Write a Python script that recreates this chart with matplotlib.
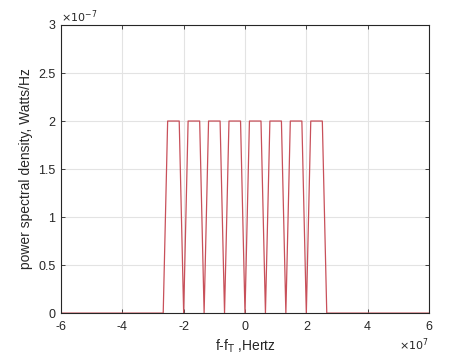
import matplotlib
matplotlib.use("Agg")
import matplotlib.pyplot as plt
from matplotlib.ticker import FuncFormatter
import numpy as np

# Data
zero_freqs = [-2.667e7, -2.0e7, -1.333e7, -0.667e7, 0.0, 0.667e7, 1.333e7, 2.0e7, 2.667e7]  # Hz, where PSD returns to zero
ramp_width = 0.145e7   # Hz, width of each rising/falling edge
psd_level = 2e-7       # W/Hz, flat top level
x_limits = [-6e7, 6e7]
y_limits = [0, 3e-7]
x_ticks = [-6e7, -4e7, -2e7, 0, 2e7, 4e7, 6e7]
y_ticks = [0, 0.5e-7, 1e-7, 1.5e-7, 2e-7, 2.5e-7, 3e-7]

# Build the frequency/psd sample sequence
freq = [x_limits[0]]
psd = [0.0]
for a, b in zip(zero_freqs[:-1], zero_freqs[1:]):
    freq += [a, a + ramp_width, b - ramp_width]
    psd += [0.0, psd_level, psd_level]
freq += [zero_freqs[-1], x_limits[1]]
psd += [0.0, 0.0]

plt.rcParams['font.family'] = ['Liberation Sans', 'DejaVu Sans']
fig = plt.figure(figsize=(4.74, 3.55), dpi=100)
ax = fig.add_axes([0.1287, 0.118, 0.7763, 0.8116])

ax.plot(freq, psd, color='#c8505a', linewidth=0.9)
ax.set_xlim(x_limits)
ax.set_ylim(y_limits)
ax.set_xticks(x_ticks)
ax.set_yticks(y_ticks)
ax.xaxis.set_major_formatter(FuncFormatter(lambda v, p: f"{v/1e7:g}"))
ax.yaxis.set_major_formatter(FuncFormatter(lambda v, p: f"{v/1e-7:g}"))
ax.grid(True, color='#e3e3e3', linewidth=0.8)
ax.set_axisbelow(True)
ax.tick_params(direction='in', top=True, right=True, length=3, width=0.6,
               labelsize=9, colors='#262626')
ax.tick_params(axis='x', pad=6)
ax.tick_params(axis='y', pad=4)
for s in ax.spines.values():
    s.set_linewidth(0.8)
    s.set_color('#262626')

ax.set_xlabel(r'f-f$_{\mathrm{T}}$ ,Hertz', fontsize=10, color='#262626', labelpad=3)
ax.set_ylabel('power spectral density, Watts/Hz', fontsize=10, color='#262626', labelpad=4)

ax.text(0.0, 1.0, r'$\times10^{-7}$', transform=ax.transAxes, fontsize=8,
        color='#262626', ha='left', va='bottom')
ax.text(1.0, -0.11, r'$\times10^{7}$', transform=ax.transAxes, fontsize=8,
        color='#262626', ha='right', va='center')

fig.savefig('out.png', dpi=100)
